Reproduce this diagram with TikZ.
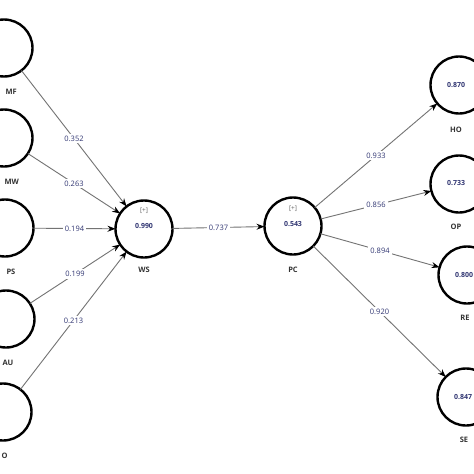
\documentclass[tikz,border=0pt]{standalone}
\usepackage{fontspec}
\setmainfont{Open Sans}
\usetikzlibrary{arrows.meta}
\definecolor{numblue}{RGB}{50,55,115}
\definecolor{edgegray}{RGB}{115,115,115}
\tikzset{
  lv/.style={circle, draw=black, line width=2.4pt, minimum size=57pt, inner sep=0pt, outer sep=0pt},
  path/.style={draw=edgegray, line width=0.9pt, -{Stealth[length=8pt,width=6pt,black]}},
  coef/.style={fill=white, inner sep=2pt, text=numblue, font=\fontsize{7.5}{8}\selectfont},
  val/.style={text=numblue, font=\fontsize{7}{8}\selectfont\bfseries},
  plus/.style={text=black!60, font=\fontsize{6.5}{7}\selectfont},
  lvname/.style={text=black!80, font=\fontsize{7.5}{8}\selectfont\bfseries},
}
\begin{document}
\begin{tikzpicture}[x=1pt,y=-1pt]
\useasboundingbox (0,0) rectangle (474,474);
\clip (0,0) rectangle (474,474);
\fill[white] (0,0) rectangle (474,474);
% left constructs
\node[lv] (MF) at (4,48) {};
\node[lv] (MW) at (4,138) {};
\node[lv] (PS) at (5,228) {};
\node[lv] (AU) at (6,319) {};
\node[lv] (DO) at (3,412) {};
\node[lvname, anchor=west] (MFl) at (2,92) {MF};
\node[lvname, anchor=west] (MWl) at (1,182) {MW};
\node[lvname, anchor=west] (PSl) at (3,272) {PS};
\node[lvname, anchor=west] (AUl) at (-1,363) {AU};
\node[lvname, anchor=west] (DOl) at (-2,456) {O};
% WS
\node[lv] (WS) at (144,229) {};
\node[plus] (WSp) at (144,211) {[+]};
\node[val] (WSv) at (144,226) {0.990};
\node[lvname] (WSl) at (144,270) {WS};
% PC
\node[lv] (PC) at (293,226) {};
\node[plus] (PCp) at (293,209) {[+]};
\node[val] (PCv) at (293,224) {0.543};
\node[lvname] (PCl) at (293,270) {PC};
% right constructs
\node[lv] (HO) at (459,85) {};
\node[val] (HOv) at (456,85) {0.870};
\node[lvname] (HOl) at (456,130) {HO};
\node[lv] (OP) at (459,184) {};
\node[val] (OPv) at (456,183) {0.733};
\node[lvname] (OPl) at (456,227) {OP};
\node[lv] (RE) at (467,275) {};
\node[val] (REv) at (464,275) {0.800};
\node[lvname] (REl) at (465,318) {RE};
\node[lv] (SE) at (466,397) {};
\node[val] (SEv) at (463,397) {0.847};
\node[lvname] (SEl) at (464,440) {SE};
% paths
\draw[path] (MF) -- node[coef] {0.352} (WS);
\draw[path] (MW) -- node[coef] {0.263} (WS);
\draw[path] (PS) -- node[coef] {0.194} (WS);
\draw[path] (AU) -- node[coef] {0.199} (WS);
\draw[path] (DO) -- node[coef] {0.213} (WS);
\draw[path] (WS) -- node[coef] {0.737} (PC);
\draw[path] (PC) -- node[coef] {0.933} (HO);
\draw[path] (PC) -- node[coef] {0.856} (OP);
\draw[path] (PC) -- node[coef] {0.894} (RE);
\draw[path] (PC) -- node[coef] {0.920} (SE);
\end{tikzpicture}
\end{document}
